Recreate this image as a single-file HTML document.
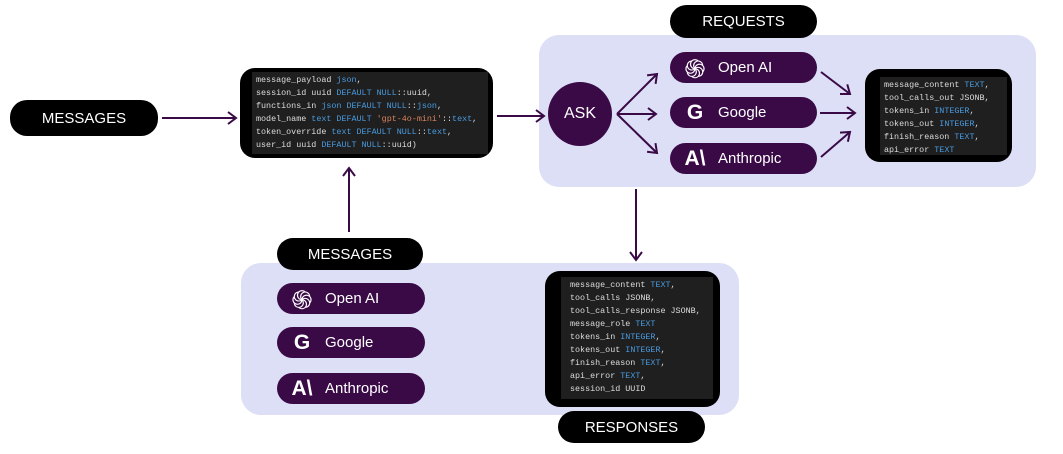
<!DOCTYPE html>
<html><head><meta charset="utf-8"><style>
*{margin:0;padding:0;box-sizing:border-box}
body{width:1063px;height:454px;background:#fff;position:relative;overflow:hidden;font-family:"Liberation Sans",sans-serif}
.a{position:absolute}
.bg{background:#dcdff5;border-radius:20px}
.pill{position:absolute;background:#000;color:#fff;border-radius:17px;display:flex;align-items:center;justify-content:center;font-size:15px}
.pp{position:absolute;background:#3a0a47;color:#fff;border-radius:16px;font-size:15px;display:flex;align-items:center}
.pp .ic{width:44px;text-align:center;font-weight:bold;font-size:21px;padding-left:6px}
.pp .oi{font-size:26px;font-weight:normal}
.pp .t{position:absolute;left:48px}
.code{position:absolute;background:#000;border-radius:15px}
.in{position:absolute;background:#1f1f1f;font-family:"Liberation Mono",monospace;font-size:8.4px;color:#ddd;line-height:13px;padding:2px 4px;white-space:pre}
.k{color:#4a9be0}.s{color:#d9845c}
</style></head><body>
<div class="a bg" style="left:539px;top:35px;width:497px;height:152px"></div>
<div class="a bg" style="left:241px;top:263px;width:498px;height:152px"></div>

<div class="pill" style="left:10px;top:100px;width:148px;height:36px">MESSAGES</div>
<div class="pill" style="left:670px;top:5px;width:147px;height:33px">REQUESTS</div>
<div class="pill" style="left:277px;top:238px;width:146px;height:32px">MESSAGES</div>
<div class="pill" style="left:558px;top:411px;width:147px;height:32px">RESPONSES</div>

<div class="code" style="left:240px;top:68px;width:253px;height:90px">
<div class="in" style="left:12px;top:4px;width:236px;height:82px">message_payload <span class="k">json</span>,
session_id uuid <span class="k">DEFAULT NULL</span>::uuid,
functions_in <span class="k">json DEFAULT NULL</span>::<span class="k">json</span>,
model_name <span class="k">text DEFAULT</span> <span class="s">'gpt-4o-mini'</span>::<span class="k">text</span>,
token_override <span class="k">text DEFAULT NULL</span>::<span class="k">text</span>,
user_id uuid <span class="k">DEFAULT NULL</span>::uuid)</div></div>

<div class="code" style="left:865px;top:69px;width:147px;height:93px">
<div class="in" style="left:15px;top:8px;width:127px;height:78px">message_content <span class="k">TEXT</span>,
tool_calls_out JSONB,
tokens_in <span class="k">INTEGER</span>,
tokens_out <span class="k">INTEGER</span>,
finish_reason <span class="k">TEXT</span>,
api_error <span class="k">TEXT</span></div></div>

<div class="code" style="left:545px;top:271px;width:175px;height:136px">
<div class="in" style="left:16px;top:6px;width:152px;height:122px;padding-left:9px">message_content <span class="k">TEXT</span>,
tool_calls JSONB,
tool_calls_response JSONB,
message_role <span class="k">TEXT</span>
tokens_in <span class="k">INTEGER</span>,
tokens_out <span class="k">INTEGER</span>,
finish_reason <span class="k">TEXT</span>,
api_error <span class="k">TEXT</span>,
session_id UUID</div></div>

<div class="a" style="left:548px;top:82px;width:64px;height:64px;border-radius:50%;background:#3a0a47;color:#fff;font-size:16px;display:flex;align-items:center;justify-content:center">ASK</div>

<div class="pp" style="left:670px;top:52px;width:147px;height:31px"><span class="ic oi">֍</span><span class="t">Open AI</span></div>
<div class="pp" style="left:670px;top:97px;width:147px;height:31px"><span class="ic">G</span><span class="t">Google</span></div>
<div class="pp" style="left:670px;top:143px;width:147px;height:31px"><span class="ic">A\</span><span class="t">Anthropic</span></div>

<div class="pp" style="left:277px;top:283px;width:148px;height:31px"><span class="ic oi">֍</span><span class="t">Open AI</span></div>
<div class="pp" style="left:277px;top:327px;width:148px;height:31px"><span class="ic">G</span><span class="t">Google</span></div>
<div class="pp" style="left:277px;top:373px;width:148px;height:31px"><span class="ic">A\</span><span class="t">Anthropic</span></div>

<svg class="a" style="left:0;top:0" width="1063" height="454" fill="none" stroke="#3a0a47" stroke-width="2">
<defs><marker id="m" markerWidth="12" markerHeight="14" refX="9" refY="7" orient="auto" markerUnits="userSpaceOnUse"><path d="M1,1 L9,7 L1,13" stroke="#3a0a47" stroke-width="2" fill="none"/></marker></defs>
<line x1="162" y1="118" x2="236" y2="118" marker-end="url(#m)"/>
<line x1="497" y1="116" x2="544" y2="116" marker-end="url(#m)"/>
<line x1="617" y1="114" x2="657" y2="74" marker-end="url(#m)"/>
<line x1="617" y1="114" x2="656" y2="114" marker-end="url(#m)"/>
<line x1="617" y1="114" x2="657" y2="153" marker-end="url(#m)"/>
<line x1="821" y1="72" x2="850" y2="94" marker-end="url(#m)"/>
<line x1="820" y1="113" x2="855" y2="113" marker-end="url(#m)"/>
<line x1="821" y1="157" x2="850" y2="132" marker-end="url(#m)"/>
<line x1="636" y1="189" x2="636" y2="260" marker-end="url(#m)"/>
<line x1="349" y1="232" x2="349" y2="168" marker-end="url(#m)"/>
</svg>
</body></html>
